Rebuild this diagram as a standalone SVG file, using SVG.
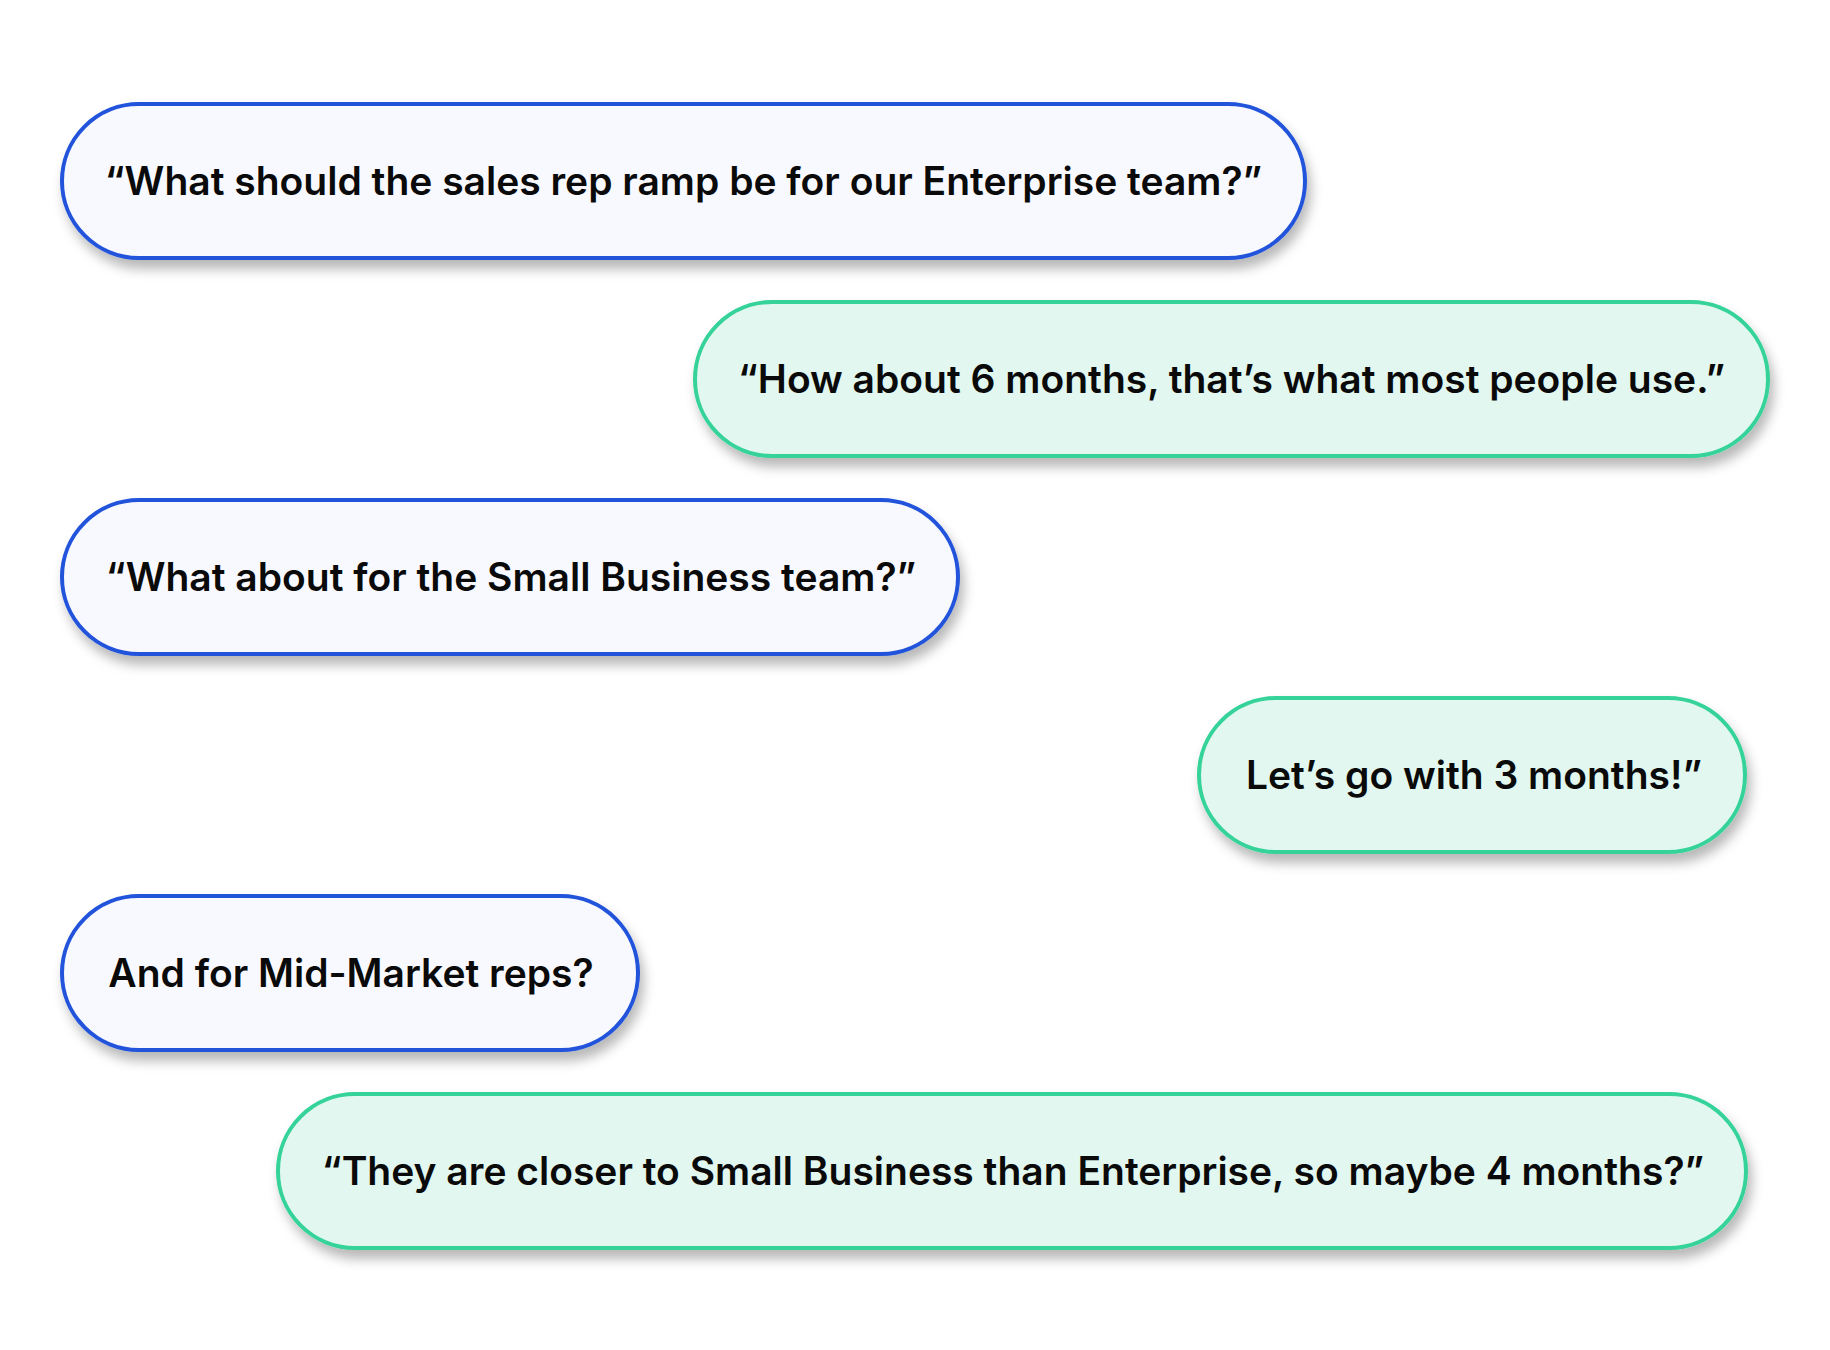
<svg xmlns="http://www.w3.org/2000/svg" width="1830" height="1350" viewBox="0 0 1830 1350">
<defs>
<filter id="sh" x="-10%" y="-30%" width="120%" height="170%">
<feDropShadow dx="4" dy="9" stdDeviation="6" flood-color="#000" flood-opacity="0.28"/>
</filter>
<style>
.q rect{fill:#F8F9FE;stroke:#2152DB;stroke-width:4;filter:url(#sh)}
.a rect{fill:#E1F7EF;stroke:#34D399;stroke-width:4;filter:url(#sh)}
text{font-family:Inter,"Noto Sans","Liberation Sans",sans-serif;font-size:39px;font-weight:600;fill:#0A0A0A;text-anchor:middle}
</style>
</defs>
<rect width="1830" height="1350" fill="#FFFFFF"/>
<g id="connectors"></g>
<g id="msg1" class="q">
<rect x="62" y="104" width="1243" height="154" rx="77"/>
<text x="683.5" y="195">“What should the sales rep ramp be for our Enterprise team?”</text>
</g>
<g id="msg2" class="a">
<rect x="695" y="302" width="1073" height="154" rx="77"/>
<text x="1231.5" y="393">“How about 6 months, that’s what most people use.”</text>
</g>
<g id="msg3" class="q">
<rect x="62" y="500" width="896" height="154" rx="77"/>
<text x="511" y="591">“What about for the Small Business team?”</text>
</g>
<g id="msg4" class="a">
<rect x="1199" y="698" width="546" height="154" rx="77"/>
<text x="1474" y="789">Let’s go with 3 months!”</text>
</g>
<g id="msg5" class="q">
<rect x="62" y="896" width="576" height="154" rx="77"/>
<text x="351" y="987">And for Mid-Market reps?</text>
</g>
<g id="msg6" class="a">
<rect x="278" y="1094" width="1468" height="154" rx="77"/>
<text x="1013" y="1185">“They are closer to Small Business than Enterprise, so maybe 4 months?”</text>
</g>
</svg>
